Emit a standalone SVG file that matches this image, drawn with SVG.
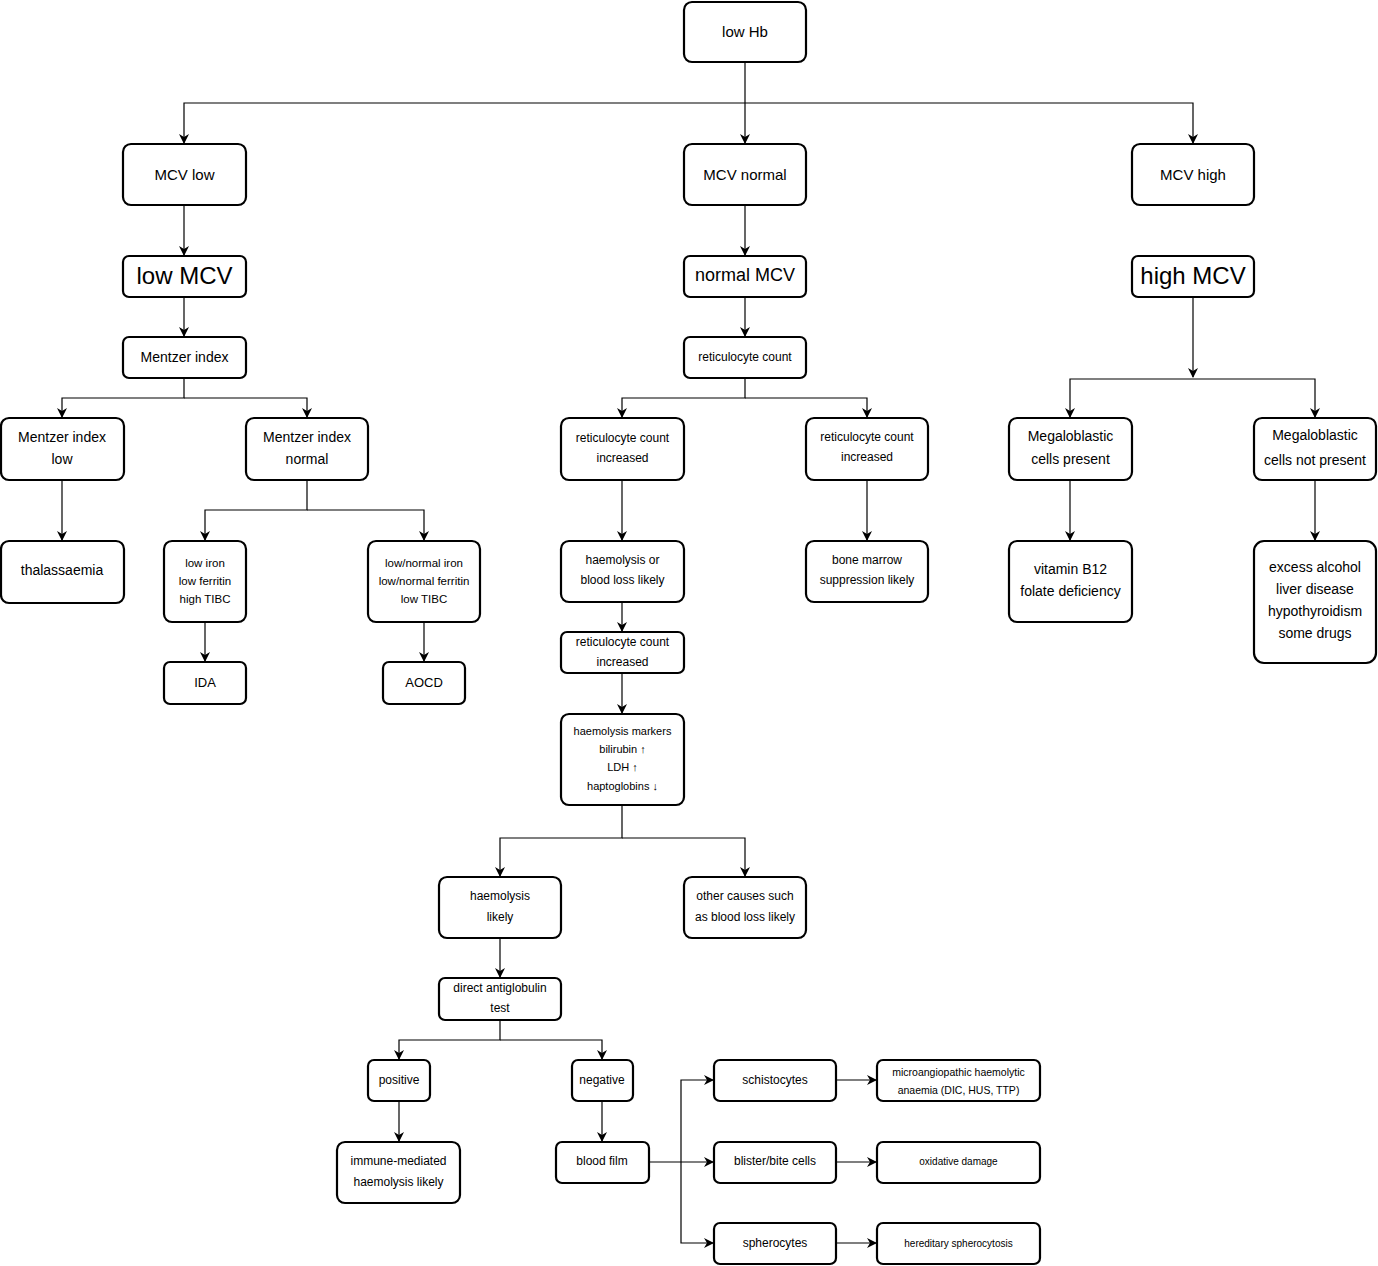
<svg xmlns="http://www.w3.org/2000/svg" width="1378" height="1266" viewBox="0 0 1378 1266">
<style>
.n rect{fill:#fff;stroke:#000;stroke-width:2.2}
.n text{font-family:"Liberation Sans","Noto Sans",sans-serif;fill:#000;text-anchor:middle;dominant-baseline:central;font-size:13px}
.c path{fill:none;stroke:#000;stroke-width:1.2}
</style>
<defs>
<marker id="a" viewBox="0 0 10 10" refX="9" refY="5" markerWidth="10" markerHeight="10" orient="auto" markerUnits="userSpaceOnUse">
<path d="M0,0 L10,5 L0,10 L3,5 Z" fill="#000"/>
</marker>
</defs>
<rect width="1378" height="1266" fill="#fff"/>
<g class="c">
<path d="M745,62 V143" marker-end="url(#a)"/>
<path d="M745,103 H184 V143" marker-end="url(#a)"/>
<path d="M745,103 H1193 V143" marker-end="url(#a)"/>
<path d="M184,205 V255" marker-end="url(#a)"/>
<path d="M184,297 V336" marker-end="url(#a)"/>
<path d="M184,378 V398 H62 V417" marker-end="url(#a)"/>
<path d="M184,398 H307 V417" marker-end="url(#a)"/>
<path d="M62,480 V540" marker-end="url(#a)"/>
<path d="M307,480 V510 H205 V540" marker-end="url(#a)"/>
<path d="M307,510 H424 V540" marker-end="url(#a)"/>
<path d="M205,622 V661" marker-end="url(#a)"/>
<path d="M424,622 V661" marker-end="url(#a)"/>
<path d="M745,205 V255" marker-end="url(#a)"/>
<path d="M745,297 V336" marker-end="url(#a)"/>
<path d="M745,378 V398 H622 V417" marker-end="url(#a)"/>
<path d="M745,398 H867 V417" marker-end="url(#a)"/>
<path d="M622,480 V540" marker-end="url(#a)"/>
<path d="M867,480 V540" marker-end="url(#a)"/>
<path d="M622,602 V631" marker-end="url(#a)"/>
<path d="M622,673 V713" marker-end="url(#a)"/>
<path d="M622,805 V838 H500 V876" marker-end="url(#a)"/>
<path d="M622,838 H745 V876" marker-end="url(#a)"/>
<path d="M500,938 V977" marker-end="url(#a)"/>
<path d="M500,1020 V1040 H399 V1059" marker-end="url(#a)"/>
<path d="M500,1040 H602 V1059" marker-end="url(#a)"/>
<path d="M399,1101 V1141" marker-end="url(#a)"/>
<path d="M602,1101 V1141" marker-end="url(#a)"/>
<path d="M649,1162 H713" marker-end="url(#a)"/>
<path d="M681,1162 V1080 H713" marker-end="url(#a)"/>
<path d="M681,1162 V1243 H713" marker-end="url(#a)"/>
<path d="M836,1080 H876" marker-end="url(#a)"/>
<path d="M836,1162 H876" marker-end="url(#a)"/>
<path d="M836,1243 H876" marker-end="url(#a)"/>
<path d="M1193,297 V377" marker-end="url(#a)"/>
<path d="M1193,379 H1070 V417" marker-end="url(#a)"/>
<path d="M1193,379 H1315 V417" marker-end="url(#a)"/>
<path d="M1070,480 V540" marker-end="url(#a)"/>
<path d="M1315,480 V540" marker-end="url(#a)"/>
</g>
<g id="lowHb" class="n"><rect x="684" y="2" width="122" height="60" rx="8"/><text x="745" y="31" style="font-size:15px">low Hb</text></g>
<g id="mcvLow" class="n"><rect x="123" y="144" width="123" height="61" rx="8"/><text x="184.5" y="174" style="font-size:15px">MCV low</text></g>
<g id="mcvNormal" class="n"><rect x="684" y="144" width="122" height="61" rx="8"/><text x="745" y="174" style="font-size:15px">MCV normal</text></g>
<g id="mcvHigh" class="n"><rect x="1132" y="144" width="122" height="61" rx="8"/><text x="1193" y="174" style="font-size:15px">MCV high</text></g>
<g id="lowMCV" class="n"><rect x="123" y="256" width="123" height="41" rx="6"/><text x="184.5" y="275" style="font-size:24px">low MCV</text></g>
<g id="normalMCV" class="n"><rect x="684" y="256" width="122" height="41" rx="6"/><text x="745" y="275" style="font-size:18px">normal MCV</text></g>
<g id="highMCV" class="n"><rect x="1132" y="256" width="122" height="41" rx="6"/><text x="1193" y="275" style="font-size:24px">high MCV</text></g>
<g id="mentzer" class="n"><rect x="123" y="337" width="123" height="41" rx="6"/><text x="184.5" y="357" style="font-size:14px">Mentzer index</text></g>
<g id="retic" class="n"><rect x="684" y="337" width="122" height="41" rx="6"/><text x="745" y="357" style="font-size:12px">reticulocyte count</text></g>
<g id="mentzerLow" class="n"><rect x="1" y="418" width="123" height="62" rx="8"/><text x="62" y="437" style="font-size:14px">Mentzer index</text><text x="62" y="459" style="font-size:14px">low</text></g>
<g id="mentzerNormal" class="n"><rect x="246" y="418" width="122" height="62" rx="8"/><text x="307" y="437" style="font-size:14px">Mentzer index</text><text x="307" y="459" style="font-size:14px">normal</text></g>
<g id="thal" class="n"><rect x="1" y="541" width="123" height="62" rx="8"/><text x="62" y="570" style="font-size:14px">thalassaemia</text></g>
<g id="lowIron" class="n"><rect x="164" y="541" width="82" height="81" rx="8"/><text x="205" y="563" style="font-size:11.5px">low iron</text><text x="205" y="581" style="font-size:11.5px">low ferritin</text><text x="205" y="599" style="font-size:11.5px">high TIBC</text></g>
<g id="lowNormalIron" class="n"><rect x="368" y="541" width="112" height="81" rx="8"/><text x="424" y="563" style="font-size:11.5px">low/normal iron</text><text x="424" y="581" style="font-size:11.5px">low/normal ferritin</text><text x="424" y="599" style="font-size:11.5px">low TIBC</text></g>
<g id="ida" class="n"><rect x="164" y="662" width="82" height="42" rx="6"/><text x="205" y="682" style="font-size:13px">IDA</text></g>
<g id="aocd" class="n"><rect x="383" y="662" width="82" height="42" rx="6"/><text x="424" y="682" style="font-size:13px">AOCD</text></g>
<g id="reticIncL" class="n"><rect x="561" y="418" width="123" height="62" rx="8"/><text x="622.5" y="438" style="font-size:12px">reticulocyte count</text><text x="622.5" y="458" style="font-size:12px">increased</text></g>
<g id="reticIncR" class="n"><rect x="806" y="418" width="122" height="62" rx="8"/><text x="867" y="437" style="font-size:12px">reticulocyte count</text><text x="867" y="457" style="font-size:12px">increased</text></g>
<g id="haemBlood" class="n"><rect x="561" y="541" width="123" height="61" rx="8"/><text x="622.5" y="560" style="font-size:12px">haemolysis or</text><text x="622.5" y="580" style="font-size:12px">blood loss likely</text></g>
<g id="boneMarrow" class="n"><rect x="806" y="541" width="122" height="61" rx="8"/><text x="867" y="560" style="font-size:12px">bone marrow</text><text x="867" y="580" style="font-size:12px">suppression likely</text></g>
<g id="reticInc3" class="n"><rect x="561" y="632" width="123" height="41" rx="6"/><text x="622.5" y="642" style="font-size:12px">reticulocyte count</text><text x="622.5" y="662" style="font-size:12px">increased</text></g>
<g id="haemMarkers" class="n"><rect x="561" y="714" width="123" height="91" rx="8"/><text x="622.5" y="731" style="font-size:11px">haemolysis markers</text><text x="622.5" y="749" style="font-size:11px">bilirubin ↑</text><text x="622.5" y="767" style="font-size:11px">LDH ↑</text><text x="622.5" y="786" style="font-size:11px">haptoglobins ↓</text></g>
<g id="haemLikely" class="n"><rect x="439" y="877" width="122" height="61" rx="8"/><text x="500" y="896" style="font-size:12px">haemolysis</text><text x="500" y="917" style="font-size:12px">likely</text></g>
<g id="otherCauses" class="n"><rect x="684" y="877" width="122" height="61" rx="8"/><text x="745" y="896" style="font-size:12px">other causes such</text><text x="745" y="917" style="font-size:12px">as blood loss likely</text></g>
<g id="dat" class="n"><rect x="439" y="978" width="122" height="42" rx="6"/><text x="500" y="988" style="font-size:12px">direct antiglobulin</text><text x="500" y="1008" style="font-size:12px">test</text></g>
<g id="positive" class="n"><rect x="368" y="1060" width="62" height="41" rx="6"/><text x="399" y="1080" style="font-size:12px">positive</text></g>
<g id="negative" class="n"><rect x="572" y="1060" width="61" height="41" rx="6"/><text x="602" y="1080" style="font-size:12px">negative</text></g>
<g id="immune" class="n"><rect x="337" y="1142" width="123" height="61" rx="8"/><text x="398.5" y="1161" style="font-size:12px">immune-mediated</text><text x="398.5" y="1182" style="font-size:12px">haemolysis likely</text></g>
<g id="bloodFilm" class="n"><rect x="556" y="1142" width="93" height="41" rx="6"/><text x="602" y="1161" style="font-size:12px">blood film</text></g>
<g id="schisto" class="n"><rect x="714" y="1060" width="122" height="41" rx="6"/><text x="775" y="1080" style="font-size:12px">schistocytes</text></g>
<g id="blister" class="n"><rect x="714" y="1142" width="122" height="41" rx="6"/><text x="775" y="1161" style="font-size:12px">blister/bite cells</text></g>
<g id="sphero" class="n"><rect x="714" y="1223" width="122" height="41" rx="6"/><text x="775" y="1243" style="font-size:12px">spherocytes</text></g>
<g id="micro" class="n"><rect x="877" y="1060" width="163" height="41" rx="6"/><text x="958.5" y="1072" style="font-size:10.5px">microangiopathic haemolytic</text><text x="958.5" y="1090" style="font-size:10.5px">anaemia (DIC, HUS, TTP)</text></g>
<g id="oxidative" class="n"><rect x="877" y="1142" width="163" height="41" rx="6"/><text x="958.5" y="1161" style="font-size:10px">oxidative damage</text></g>
<g id="hereditary" class="n"><rect x="877" y="1223" width="163" height="41" rx="6"/><text x="958.5" y="1243" style="font-size:10px">hereditary spherocytosis</text></g>
<g id="megaPresent" class="n"><rect x="1009" y="418" width="123" height="62" rx="8"/><text x="1070.5" y="436" style="font-size:14px">Megaloblastic</text><text x="1070.5" y="459" style="font-size:14px">cells present</text></g>
<g id="megaNotPresent" class="n"><rect x="1254" y="418" width="122" height="62" rx="8"/><text x="1315" y="435" style="font-size:14px">Megaloblastic</text><text x="1315" y="460" style="font-size:14px">cells not present</text></g>
<g id="vitB12" class="n"><rect x="1009" y="541" width="123" height="81" rx="8"/><text x="1070.5" y="569" style="font-size:14px">vitamin B12</text><text x="1070.5" y="591" style="font-size:14px">folate deficiency</text></g>
<g id="excess" class="n"><rect x="1254" y="541" width="122" height="122" rx="10"/><text x="1315" y="567" style="font-size:14px">excess alcohol</text><text x="1315" y="589" style="font-size:14px">liver disease</text><text x="1315" y="611" style="font-size:14px">hypothyroidism</text><text x="1315" y="633" style="font-size:14px">some drugs</text></g>
</svg>
